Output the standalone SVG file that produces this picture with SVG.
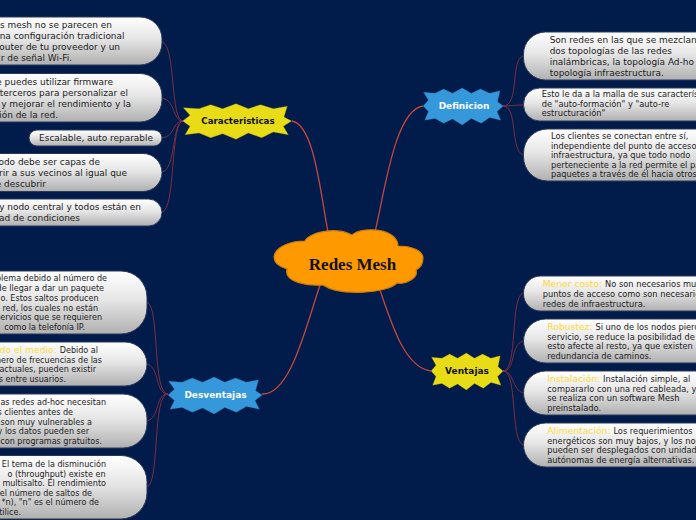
<svg xmlns="http://www.w3.org/2000/svg" xmlns:xlink="http://www.w3.org/1999/xlink" width="696" height="520" viewBox="0 0 696 520">
<style>
.p{fill:url(#pg);stroke:#2a3858;stroke-width:1}
.t,.s,.d{font-family:"DejaVu Sans",Verdana,sans-serif;fill:#1c1c1c}
.t{font-size:8.95px}
.s{font-size:8.25px}
.d{font-size:8.05px}
.e{text-anchor:end}
.y{fill:#ffd83a;font-size:9.2px}
.l{font-family:"DejaVu Sans",Verdana,sans-serif;font-size:9px;font-weight:bold;text-anchor:middle}
.main{fill:none;stroke:#c2483f;stroke-width:1.3}
.sub{fill:none;stroke:#7c2f42;stroke-width:1}
.st{stroke-width:1;vector-effect:non-scaling-stroke}
</style>
<defs>
<linearGradient id="pg" x1="0" y1="0" x2="0" y2="1"><stop offset="0" stop-color="#ffffff"/><stop offset="0.45" stop-color="#e6e6e6"/><stop offset="1" stop-color="#b0b0b0"/></linearGradient>
<polygon id="star" points="-161,-40 -114,-37 -79,-49 -43,-37 -3,-52 34,-37 71,-49 109,-37 151,-44 141,-12 164,0 139,16 154,41 109,33 74,50 34,36 -3,55 -43,38 -79,50 -114,36 -156,41 -141,16 -163,0 -141,-17"/>
</defs>
<rect width="696" height="520" fill="#011b4b"/>
<g id="connectors">
<path class="main" d="M328,232 C320,190 314,125 292,121"/>
<path class="main" d="M375,232 C385,190 395,110 423,106"/>
<path class="main" d="M320,285 C305,330 290,395 262,394"/>
<path class="main" d="M380,290 C392,325 405,368 431,371"/>
<path class="sub" d="M183,121 C170,121 176,45 162,42"/>
<path class="sub" d="M183,121 C172,121 176,100 162,98"/>
<path class="sub" d="M183,121 C172,121 176,136 162,138"/>
<path class="sub" d="M183,121 C172,121 176,170 162,172"/>
<path class="sub" d="M183,121 C170,121 176,210 162,212"/>
<path class="sub" d="M503,106 C520,106 510,60 523,56"/>
<path class="sub" d="M503,106 C512,106 515,105 523,105"/>
<path class="sub" d="M503,106 C518,106 510,150 523,155"/>
<path class="sub" d="M503,371 C518,371 510,297 523,293"/>
<path class="sub" d="M503,371 C516,371 510,345 523,341"/>
<path class="sub" d="M503,371 C514,371 512,390 523,393"/>
<path class="sub" d="M503,371 C518,371 510,440 523,445"/>
<path class="sub" d="M168,394 C152,394 160,306 147,302"/>
<path class="sub" d="M168,394 C155,394 160,368 147,364"/>
<path class="sub" d="M168,394 C155,394 160,418 147,421"/>
<path class="sub" d="M168,394 C152,394 160,483 147,487"/>
</g>
<g id="root">
<path d="M305,241 C308,233 335,226 352,235 C362,226 398,228 398,246 C412,246 423,251 423,258 C423,264 420,268 416,270 C419,278 405,285 397,283 C388,293 340,297 323,285 C310,286 283,283 287,269 C277,266 274,262 274,257 C275,247 290,241 305,241 Z" fill="#ff9900" stroke="#c97a12" stroke-width="1.2"/>
<text x="352.500" y="270" text-anchor="middle" font-family="Liberation Serif,serif" font-size="17" font-weight="bold" fill="#111">Redes Mesh</text>
</g>
<g id="caracteristicas">
<use xlink:href="#star" href="#star" class="st" transform="translate(237,121) scale(0.333)" fill="#e8dc17" stroke="#a99c12"/>
<text class="l" x="238" y="124" style="font-size:8.7px" fill="#111">Caracteristicas</text>
</g>
<g id="definicion">
<use xlink:href="#star" href="#star" class="st" transform="translate(463,106) scale(0.245,0.345)" fill="#3498db" stroke="#2a78b0"/>
<text class="l" x="464" y="109" fill="#fff">Definicion</text>
</g>
<g id="ventajas">
<use xlink:href="#star" href="#star" class="st" transform="translate(467,371) scale(0.22,0.345)" fill="#e8dc17" stroke="#a99c12"/>
<text class="l" x="467" y="374" fill="#111">Ventajas</text>
</g>
<g id="desventajas">
<use xlink:href="#star" href="#star" class="st" transform="translate(215,395) scale(0.288,0.345)" fill="#3498db" stroke="#2a78b0"/>
<text class="l" x="215.500" y="398" fill="#fff">Desventajas</text>
</g>
<g id="c1"><rect class="p" x="-40" y="17" width="202" height="48" rx="22"/>
<text class="t e" x="112" y="28">s mesh no se parecen en</text><text class="t e" x="124.500" y="39">na configuración tradicional</text><text class="t e" x="120" y="50">outer de tu proveedor y un</text><text class="t e" x="72" y="61">r de señal Wi-Fi.</text></g>
<g id="c2"><rect class="p" x="-40" y="73.500" width="202" height="48.500" rx="22"/>
<text class="t e" x="113" y="85">e puedes utilizar firmware</text><text class="t e" x="128" y="96">terceros para personalizar el</text><text class="t e" x="131" y="107">y mejorar el rendimiento y la</text><text class="t e" x="58" y="118">ión de la red.</text></g>
<g id="c3"><rect class="p" x="29" y="130" width="133" height="16" rx="8"/>
<text class="t e" x="153" y="141">Escalable, auto reparable</text></g>
<g id="c4"><rect class="p" x="-40" y="153.500" width="202" height="38" rx="19"/>
<text class="t e" x="100" y="165">odo debe ser capas de</text><text class="t e" x="127" y="176">rir a sus vecinos al igual que</text><text class="t e" x="46" y="187">e descubrir</text></g>
<g id="c5"><rect class="p" x="-40" y="199" width="202" height="27" rx="13.500"/>
<text class="t e" x="141" y="210">y nodo central y todos están en</text><text class="t e" x="80" y="221">ad de condiciones</text></g>
<g id="d1"><rect class="p" x="-60" y="271" width="207" height="63" rx="26"/>
<text class="d e" x="107" y="281">blema debido al número de</text><text class="d e" x="104" y="291">de llegar a dar un paquete</text><text class="d e" x="98.500" y="301">o. Estos saltos producen</text><text class="d e" x="98" y="310.500">red, los cuales no están</text><text class="d e" x="102" y="320">servicios que se requieren</text><text class="d e" x="85" y="329.500">como la telefonía IP.</text></g>
<g id="d2"><rect class="p" x="-60" y="342" width="207" height="44" rx="22"/>
<text class="d e" x="98" y="353"><tspan class="y">ado el medio: </tspan>Debido al</text><text class="d e" x="102" y="362.500">mero de frecuencias de las</text><text class="d e" x="96" y="372">actuales, pueden existir</text><text class="d e" x="66" y="381.500">s entre usuarios.</text></g>
<g id="d3"><rect class="p" x="-60" y="394" width="207" height="54" rx="24"/>
<text class="d e" x="106" y="405">as redes ad-hoc necesitan</text><text class="d e" x="73" y="414.500">s clientes antes de</text><text class="d e" x="92" y="424.500">son muy vulnerables a</text><text class="d e" x="89" y="434">y los datos pueden ser</text><text class="d e" x="102" y="443.500">con programas gratuitos.</text></g>
<g id="d4"><rect class="p" x="-60" y="455.500" width="207" height="63.500" rx="26"/>
<text class="d e" x="106" y="467">El tema de la disminución</text><text class="d e" x="105.500" y="476.500">o (throughput) existe en</text><text class="d e" x="106" y="486">multisalto. El rendimiento</text><text class="d e" x="92" y="496">el número de saltos de</text><text class="d e" x="99" y="505">*n), "n" es el número de</text><text class="d e" x="21" y="514.500">tilice.</text></g>
<g id="f1"><rect class="p" x="523.500" y="32" width="230" height="48" rx="22"/>
<text class="t" x="549.700" y="43">Son redes en las que se mezclan</text><text class="t" x="549.700" y="54">dos topologías de las redes</text><text class="t" x="549.700" y="65">inalámbricas, la topología Ad-ho</text><text class="t" x="549.700" y="76">topología infraestructura.</text></g>
<g id="f2"><rect class="p" x="523.500" y="88" width="230" height="33" rx="16"/>
<text class="s" x="541.700" y="97">Esto le da a la malla de sus característ</text><text class="s" x="541.700" y="107">de "auto-formación" y "auto-re</text><text class="s" x="541.700" y="116">estructuración"</text></g>
<g id="f3"><rect class="p" x="523.500" y="129" width="230" height="52" rx="24"/>
<text class="s" x="551" y="139">Los clientes se conectan entre sí,</text><text class="s" x="551" y="148.500">independiente del punto de acceso o</text><text class="s" x="551" y="158">infraestructura, ya que todo nodo</text><text class="s" x="551" y="167.500">perteneciente a la red permite el pa</text><text class="s" x="551" y="177">paquetes a través de él hacia otros</text></g>
<g id="v1"><rect class="p" x="523.500" y="276" width="230" height="35" rx="17"/>
<text class="s" x="542.700" y="287"><tspan class="y">Menor costo: </tspan>No son necesarios muc</text><text class="s" x="542.700" y="297">puntos de acceso como son necesarios</text><text class="s" x="542.700" y="306.500">redes de infraestructura.</text></g>
<g id="v2"><rect class="p" x="523.500" y="319" width="230" height="44" rx="22"/>
<text class="s" x="547.300" y="330"><tspan class="y">Robustez: </tspan>Si uno de los nodos pierd</text><text class="s" x="547.300" y="339.500">servicio, se reduce la posibilidad de c</text><text class="s" x="547.300" y="349">esto afecte al resto, ya que existen</text><text class="s" x="547.300" y="358.500">redundancia de caminos.</text></g>
<g id="v3"><rect class="p" x="523.500" y="371" width="230" height="44" rx="22"/>
<text class="s" x="547.300" y="382"><tspan class="y">Instalación: </tspan>Instalación simple, al</text><text class="s" x="547.300" y="391.500">compararlo con una red cableada, ya</text><text class="s" x="547.300" y="401">se realiza con un software Mesh</text><text class="s" x="547.300" y="410.500">preinstalado.</text></g>
<g id="v4"><rect class="p" x="523.500" y="423" width="230" height="44" rx="22"/>
<text class="s" x="547.300" y="434"><tspan class="y">Alimentación: </tspan>Los requerimientos</text><text class="s" x="547.300" y="443.500">energéticos son muy bajos, y los noc</text><text class="s" x="547.300" y="453">pueden ser desplegados con unidade</text><text class="s" x="547.300" y="462.500">autónomas de energía alternativas.</text></g>
</svg>
